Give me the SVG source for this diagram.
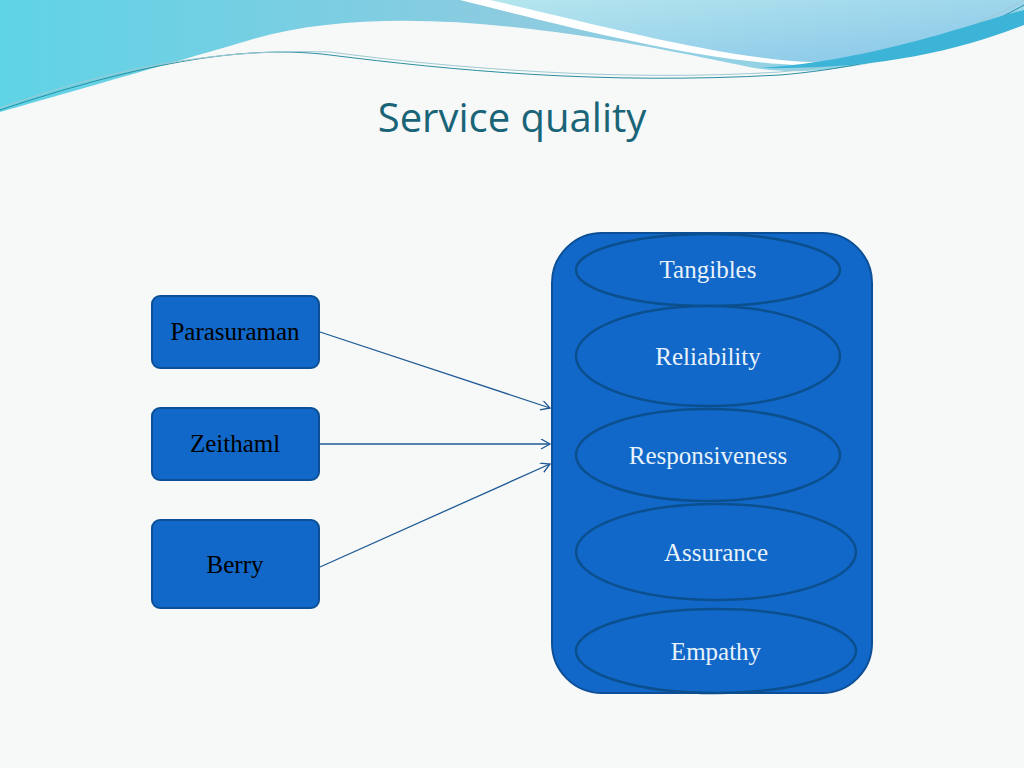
<svg xmlns="http://www.w3.org/2000/svg" width="1024" height="768" viewBox="0 0 1024 768">
<defs>
<linearGradient id="w1" x1="0" y1="0" x2="1" y2="0"><stop offset="0" stop-color="#5fd3e6"/><stop offset="0.5" stop-color="#8ccbe0"/><stop offset="1" stop-color="#9bd8e8"/></linearGradient>
<linearGradient id="w2" x1="0" y1="0" x2="1" y2="1"><stop offset="0" stop-color="#b5e6ee"/><stop offset="1" stop-color="#86c5e8"/></linearGradient>
<marker id="ah" markerWidth="12" markerHeight="12" refX="10" refY="5" orient="auto" markerUnits="userSpaceOnUse"><path d="M1,0 L10,5 L1,10" fill="none" stroke="#1f5a96" stroke-width="1.3"/></marker>
<style>
.box{fill:#1168c8;stroke:#0d4f96;stroke-width:2}
.ell{fill:#1168c8;stroke:#0b4f8e;stroke-width:2.5}
.lt{font-family:"Liberation Serif",serif;font-size:25px;fill:#000;text-anchor:middle}
.et{font-family:"Liberation Serif",serif;font-size:25px;fill:#e8f2fb;text-anchor:middle}
.cn{stroke:#1f5a96;stroke-width:1.3;fill:none;marker-end:url(#ah)}
</style>
</defs>
<rect width="1024" height="768" fill="#f7f8f8"/>
<path d="M0,0 H1024 V10 C900,70 800,80 740,65 C620,40 400,-5 250,40 C130,75 60,95 0,112 Z" fill="url(#w1)"/>
<path d="M460,0 H1024 C990,30 900,62 800,65 C700,62 560,25 460,0 Z" fill="#ffffff"/>
<path d="M490,0 H1024 V5 C980,35 900,60 810,62 C720,58 600,25 490,0 Z" fill="url(#w2)"/>
<path d="M0,110 C150,60 250,45 330,55 C450,70 600,85 780,75 C900,65 980,30 1024,5" fill="none" stroke="#2a8fa0" stroke-width="1"/>
<path d="M0,108 C150,55 250,50 330,52 C450,68 620,82 780,72 C900,60 980,25 1024,0" fill="none" stroke="#9fcad3" stroke-width="1"/>
<path d="M760,68 C880,60 980,20 1024,10 V25 C960,50 880,70 760,68 Z" fill="#3bb4d8"/>
<text x="512" y="132" font-family="Open Sans, Liberation Sans, sans-serif" font-size="40" fill="#1a6478" text-anchor="middle">Service quality</text>
<g id="connectors">
<line class="cn" x1="320" y1="332" x2="550" y2="408"/>
<line class="cn" x1="320" y1="444" x2="550" y2="444"/>
<line class="cn" x1="320" y1="567" x2="550" y2="464"/>
</g>
<g id="parasuraman"><rect class="box" x="152" y="296" width="167" height="72" rx="8"/><text class="lt" x="235" y="340">Parasuraman</text></g>
<g id="zeithaml"><rect class="box" x="152" y="408" width="167" height="72" rx="8"/><text class="lt" x="235" y="452">Zeithaml</text></g>
<g id="berry"><rect class="box" x="152" y="520" width="167" height="88" rx="8"/><text class="lt" x="235" y="573">Berry</text></g>
<g id="container"><rect class="box" x="552" y="233" width="320" height="460" rx="50"/></g>
<g id="tangibles"><ellipse class="ell" cx="708" cy="270" rx="132" ry="36"/><text class="et" x="708" y="278">Tangibles</text></g>
<g id="reliability"><ellipse class="ell" cx="708" cy="356" rx="132" ry="50"/><text class="et" x="708" y="365">Reliability</text></g>
<g id="responsiveness"><ellipse class="ell" cx="708" cy="455" rx="132" ry="46"/><text class="et" x="708" y="464">Responsiveness</text></g>
<g id="assurance"><ellipse class="ell" cx="716" cy="552" rx="140" ry="48"/><text class="et" x="716" y="561">Assurance</text></g>
<g id="empathy"><ellipse class="ell" cx="716" cy="651" rx="140" ry="42"/><text class="et" x="716" y="660">Empathy</text></g>
</svg>
